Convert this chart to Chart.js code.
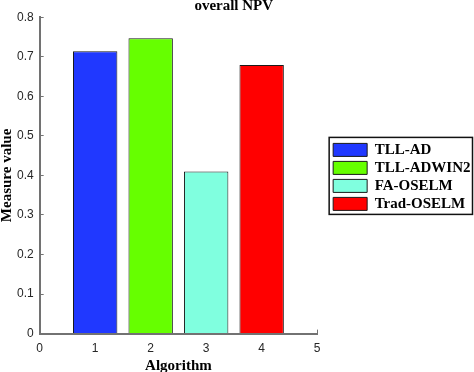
<!DOCTYPE html>
<html>
<head>
<meta charset="utf-8">
<script src="https://cdn.jsdelivr.net/npm/chart.js@4.4.0/dist/chart.umd.min.js"></script>
<style>
  html, body { margin: 0; padding: 0; background: #fff; }
  #wrap { width: 474px; height: 372px; }
</style>
</head>
<body>
<div id="wrap"><canvas id="npv" width="474" height="372"></canvas></div>
<script>
const algorithms = ['TLL-AD', 'TLL-ADWIN2', 'FA-OSELM', 'Trad-OSELM'];
const positions = [1, 2, 3, 4];
const npvValues = [0.714, 0.747, 0.41, 0.679];
const barColors = ['#2038ff', '#66ff00', '#80ffdf', '#ff0000'];
const xTicks = [0, 1, 2, 3, 4, 5];
const yTicks = [0, 0.1, 0.2, 0.3, 0.4, 0.5, 0.6, 0.7, 0.8];

const serifBold = { family: '"Liberation Serif", "Times New Roman", serif', size: 15, weight: 'bold', lineHeight: 1 };
const tickFont = { family: '"Liberation Sans", Arial, sans-serif', size: 12 };
const axisGray = '#727272';
const legendShift = 13; // white space between plot and legend

// chart.js caps a side legend at a quarter of the width, let it be wider,
// and push it away from the plot a bit
const wideLegend = {
  id: 'wideLegend',
  beforeLayout(chart) {
    const lg = chart.legend;
    if (!lg || lg._wide) return;
    const orig = lg.update.bind(lg);
    lg.update = (maxWidth, maxHeight, margins) => orig(Math.max(maxWidth, 200), maxHeight, margins);
    lg._wide = true;
  },
  afterLayout(chart) {
    const lg = chart.legend;
    if (!lg) return;
    lg.left += legendShift;
    lg.right += legendShift;
  }
};

// box round the legend, like matlab draws it
const legendBox = {
  id: 'legendBox',
  afterDraw(chart) {
    const lg = chart.legend;
    if (!lg || !lg.legendHitBoxes.length) return;
    const boxes = lg.legendHitBoxes;
    const left = Math.min(...boxes.map(b => b.left)) - 4;
    const top = Math.min(...boxes.map(b => b.top)) - 5;
    const bottom = Math.max(...boxes.map(b => b.top + b.height)) + 3;
    const right = chart.width - 1.5;
    const ctx = chart.ctx;
    ctx.save();
    ctx.strokeStyle = '#111';
    ctx.lineWidth = 1.5;
    ctx.strokeRect(left, top, right - left, bottom - top);
    ctx.restore();
  }
};

const ctx = document.getElementById('npv').getContext('2d');
const npvChart = new Chart(ctx, {
  type: 'bar',
  data: {
    datasets: algorithms.map((name, i) => ({
      label: name,
      data: [{ x: positions[i], y: npvValues[i] }],
      backgroundColor: barColors[i],
      borderColor: '#1a1a1a',
      borderWidth: 1
    }))
  },
  options: {
    responsive: false,
    animation: false,
    grouped: false,
    categoryPercentage: 1,
    barPercentage: 0.8,
    layout: { padding: { left: 0, right: 6.5, top: 0, bottom: 0 } },
    scales: {
      x: {
        type: 'linear',
        offset: false,
        min: 0,
        max: 5,
        afterBuildTicks: s => { s.ticks = xTicks.map(v => ({ value: v })); },
        ticks: { font: tickFont, color: '#262626', padding: 12 },
        grid: { display: true, drawOnChartArea: false, tickLength: -4, color: axisGray, offset: false },
        border: { display: true, color: axisGray, width: 2 },
        title: { display: true, text: 'Algorithm', font: serifBold, color: '#000', padding: { top: -9, bottom: -2 } }
      },
      y: {
        min: 0,
        max: 0.8,
        afterBuildTicks: s => { s.ticks = yTicks.map(v => ({ value: v })); },
        ticks: { font: tickFont, color: '#262626', padding: 10 },
        grid: { display: true, drawOnChartArea: false, tickLength: -4, color: axisGray },
        border: { display: true, color: axisGray, width: 2 },
        title: { display: true, text: 'Measure value', font: serifBold, color: '#000', padding: { top: 0, bottom: -8 } }
      }
    },
    plugins: {
      title: {
        display: true,
        text: 'overall NPV',
        font: { family: '"Liberation Serif", "Times New Roman", serif', size: 15, weight: 'bold' },
        color: '#000',
        padding: { top: -6, bottom: 2 }
      },
      legend: {
        position: 'right',
        align: 'start',
        title: { display: true, text: '', padding: { top: 125, bottom: 0 } },
        labels: {
          font: { family: '"Liberation Serif", "Times New Roman", serif', size: 15, weight: 'bold' },
          color: '#000',
          boxWidth: 34,
          boxHeight: 13,
          padding: 3
        }
      },
      tooltip: { enabled: false }
    }
  },
  plugins: [wideLegend, legendBox]
});
</script>
</body>
</html>
